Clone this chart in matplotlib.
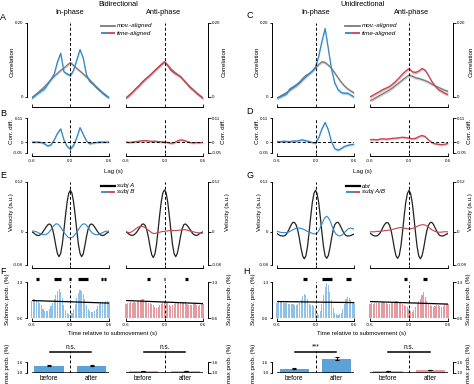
import numpy as np
import matplotlib
matplotlib.use('Agg')
import matplotlib.pyplot as plt

plt.rcParams['font.family'] = ['Liberation Sans', 'DejaVu Sans']

# ---------------- data ----------------
lag = np.linspace(-0.6, 0.6, 25)
t_vel = np.linspace(-0.6, 0.6, 49)

corr_bid_in_mov = [-0.002, 0.005, 0.012, 0.020, 0.028, 0.037, 0.047, 0.056, 0.064, 0.072, 0.078, 0.086, 0.093,
                   0.085, 0.077, 0.070, 0.062, 0.054, 0.046, 0.037, 0.028, 0.020, 0.012, 0.005, -0.002]
corr_bid_in_time = [-0.004, 0.003, 0.010, 0.016, 0.022, 0.035, 0.048, 0.062, 0.095, 0.118, 0.068, 0.062, 0.058,
                    0.072, 0.100, 0.128, 0.105, 0.060, 0.042, 0.035, 0.026, 0.018, 0.010, 0.003, -0.002]
corr_bid_anti_mov = [-0.003, 0.005, 0.013, 0.021, 0.029, 0.038, 0.047, 0.055, 0.063, 0.071, 0.079, 0.087, 0.095,
                     0.086, 0.076, 0.068, 0.061, 0.054, 0.045, 0.036, 0.027, 0.019, 0.011, 0.004, -0.003]
corr_bid_anti_time = [-0.003, 0.004, 0.012, 0.022, 0.030, 0.040, 0.048, 0.055, 0.063, 0.072, 0.080, 0.088, 0.095,
                      0.085, 0.072, 0.065, 0.060, 0.055, 0.045, 0.035, 0.025, 0.018, 0.010, 0.003, -0.004]
corr_uni_in_mov = [-0.003, 0.002, 0.007, 0.012, 0.018, 0.024, 0.030, 0.037, 0.046, 0.054, 0.062, 0.070, 0.078,
                   0.088, 0.095, 0.093, 0.086, 0.077, 0.065, 0.052, 0.040, 0.030, 0.022, 0.016, 0.011]
corr_uni_in_time = [-0.003, 0.000, 0.004, 0.008, 0.022, 0.027, 0.033, 0.040, 0.050, 0.058, 0.063, 0.070, 0.081,
                    0.110, 0.150, 0.185, 0.130, 0.075, 0.038, 0.020, 0.012, 0.010, 0.010, 0.005, 0.000]
corr_uni_anti_mov = [-0.010, -0.006, -0.001, 0.004, 0.009, 0.014, 0.019, 0.025, 0.032, 0.039, 0.046, 0.053, 0.059,
                     0.056, 0.052, 0.050, 0.047, 0.044, 0.040, 0.035, 0.030, 0.026, 0.022, 0.018, 0.015]
corr_uni_anti_time = [0.000, 0.005, 0.010, 0.015, 0.020, 0.024, 0.028, 0.035, 0.043, 0.052, 0.062, 0.070, 0.077,
                      0.068, 0.066, 0.070, 0.077, 0.072, 0.058, 0.042, 0.030, 0.020, 0.015, 0.010, 0.006]
corr_sem = 0.004

diff_bid_in = [0.000, 0.000, 0.000, -0.002, -0.008, -0.018, -0.012, 0.010, 0.040, 0.060, 0.010, -0.020, -0.033,
               -0.015, 0.020, 0.066, 0.035, 0.005, -0.008, -0.004, -0.002, 0.000, 0.000, 0.000, 0.000]
diff_bid_anti = [0.000, -0.002, 0.000, 0.002, 0.004, 0.006, 0.007, 0.005, 0.003, 0.004, 0.002, 0.001, 0.000,
                 -0.002, -0.006, -0.003, 0.005, 0.010, 0.008, 0.003, -0.002, -0.004, -0.002, -0.003, -0.001]
diff_uni_in = [0.003, 0.002, 0.004, 0.003, 0.002, 0.005, 0.004, 0.008, 0.010, 0.006, 0.003, -0.002, -0.005,
               0.020, 0.060, 0.090, 0.055, 0.000, -0.030, -0.037, -0.030, -0.020, -0.015, -0.012, -0.010]
diff_uni_anti = [0.010, 0.012, 0.010, 0.013, 0.015, 0.013, 0.015, 0.017, 0.018, 0.020, 0.022, 0.020, 0.018,
                 0.015, 0.017, 0.025, 0.030, 0.025, 0.010, -0.002, -0.008, -0.010, -0.012, -0.010, -0.006]
diff_sem = 0.005

vel_bid_in_A = [0.000, -0.002, -0.005, -0.008, -0.009, -0.008, -0.005, 0.000, 0.006, 0.012, 0.017, 0.019, 0.016,
                0.006, -0.012, -0.034, -0.053, -0.060, -0.052, -0.030, 0.004, 0.040, 0.072, 0.093, 0.100,
                0.093, 0.072, 0.040, 0.004, -0.030, -0.052, -0.060, -0.053, -0.034, -0.012, 0.006, 0.016,
                0.019, 0.017, 0.012, 0.006, 0.000, -0.005, -0.008, -0.009, -0.008, -0.005, -0.002, 0.000]
vel_bid_in_B = [0.001, 0.002, 0.001, 0.000, -0.002, -0.004, -0.006, -0.007, -0.007, -0.006, -0.004, 0.000, 0.005,
                0.011, 0.016, 0.019, 0.019, 0.016, 0.011, 0.005, -0.001, -0.006, -0.011, -0.014, -0.015,
                -0.014, -0.011, -0.006, -0.001, 0.005, 0.011, 0.016, 0.019, 0.019, 0.016, 0.011, 0.005,
                0.000, -0.004, -0.006, -0.007, -0.007, -0.006, -0.004, -0.002, 0.000, 0.001, 0.002, 0.001]
vel_bid_anti_A = [0.000, -0.003, -0.006, -0.008, -0.009, -0.007, -0.004, 0.001, 0.007, 0.013, 0.018, 0.019, 0.015,
                  0.004, -0.014, -0.036, -0.055, -0.062, -0.054, -0.031, 0.004, 0.041, 0.073, 0.094, 0.101,
                  0.094, 0.072, 0.039, 0.003, -0.031, -0.053, -0.060, -0.052, -0.033, -0.011, 0.007, 0.017,
                  0.019, 0.016, 0.011, 0.005, -0.001, -0.006, -0.008, -0.009, -0.007, -0.004, -0.002, 0.000]
vel_bid_anti_B = [0.000, -0.001, -0.002, -0.001, 0.001, 0.004, 0.007, 0.010, 0.012, 0.013, 0.013, 0.012, 0.010,
                  0.007, 0.004, 0.001, -0.002, -0.004, -0.004, -0.003, -0.002, -0.001, 0.000, 0.001, 0.001,
                  0.002, 0.002, 0.003, 0.003, 0.003, 0.003, 0.003, 0.003, 0.004, 0.004, 0.005, 0.005,
                  0.005, 0.004, 0.003, 0.002, 0.001, 0.000, -0.001, -0.002, -0.002, -0.003, -0.003, -0.003]
vel_uni_in_dot = [-0.004, -0.007, -0.009, -0.010, -0.010, -0.009, -0.005, 0.002, 0.010, 0.018, 0.023, 0.022, 0.016,
                  0.003, -0.017, -0.040, -0.058, -0.065, -0.058, -0.036, -0.002, 0.036, 0.070, 0.092, 0.100,
                  0.092, 0.070, 0.036, -0.002, -0.036, -0.058, -0.064, -0.057, -0.039, -0.016, 0.004, 0.017,
                  0.022, 0.023, 0.018, 0.010, 0.002, -0.005, -0.009, -0.010, -0.010, -0.009, -0.007, -0.006]
vel_uni_in_AB = [0.001, 0.000, -0.001, -0.002, -0.002, -0.002, -0.002, -0.001, 0.001, 0.003, 0.005, 0.007, 0.008,
                 0.009, 0.009, 0.008, 0.007, 0.005, 0.003, 0.001, 0.000, -0.002, -0.004, -0.005, -0.005,
                 -0.003, 0.002, 0.010, 0.019, 0.028, 0.035, 0.037, 0.034, 0.027, 0.017, 0.007, -0.001,
                 -0.006, -0.009, -0.010, -0.009, -0.006, -0.002, 0.002, 0.006, 0.008, 0.009, 0.008, 0.006]
vel_uni_anti_dot = [-0.003, -0.006, -0.009, -0.010, -0.010, -0.008, -0.004, 0.003, 0.011, 0.018, 0.022, 0.022, 0.016,
                    0.003, -0.017, -0.040, -0.058, -0.064, -0.057, -0.035, -0.001, 0.037, 0.071, 0.092, 0.100,
                    0.092, 0.070, 0.036, -0.002, -0.036, -0.058, -0.065, -0.058, -0.040, -0.017, 0.003, 0.016,
                    0.022, 0.023, 0.018, 0.010, 0.002, -0.005, -0.009, -0.010, -0.010, -0.008, -0.006, -0.004]
vel_uni_anti_AB = [0.000, 0.000, 0.000, 0.000, 0.001, 0.001, 0.001, 0.002, 0.002, 0.003, 0.003, 0.004, 0.004,
                   0.005, 0.006, 0.007, 0.008, 0.009, 0.010, 0.010, 0.010, 0.009, 0.008, 0.007, 0.007,
                   0.007, 0.008, 0.009, 0.011, 0.013, 0.015, 0.016, 0.017, 0.017, 0.016, 0.014, 0.011,
                   0.008, 0.005, 0.003, 0.001, 0.000, -0.001, -0.001, -0.001, 0.000, 0.000, 0.000, 0.000]

prob_bid_in = [0.94, 0.96, 0.97, 0.95, 0.93, 0.90, 0.85, 0.78, 0.74, 0.73, 0.74, 0.78, 0.84, 0.90, 0.96, 1.04,
               1.12, 1.16, 1.10, 0.98, 0.86, 0.76, 0.70, 0.67, 0.66, 0.70, 0.78, 0.88, 0.98, 1.08, 1.15, 1.13,
               1.06, 0.96, 0.86, 0.78, 0.73, 0.72, 0.72, 0.74, 0.78, 0.83, 0.87, 0.90, 0.91, 0.92, 0.93, 0.93, 0.92]
prob_bid_anti = [0.88, 0.90, 0.89, 0.91, 0.90, 0.92, 0.90, 0.91, 0.93, 0.95, 0.97, 0.96, 0.93, 0.92, 0.90, 0.89,
                 0.87, 0.85, 0.82, 0.80, 0.82, 0.85, 0.88, 0.91, 0.93, 0.92, 0.89, 0.86, 0.84, 0.85, 0.88, 0.90,
                 0.91, 0.90, 0.89, 0.90, 0.92, 0.91, 0.88, 0.86, 0.85, 0.86, 0.88, 0.87, 0.85, 0.84, 0.86, 0.88, 0.87]
prob_uni_in = [0.90, 0.91, 0.92, 0.91, 0.90, 0.89, 0.89, 0.88, 0.88, 0.87, 0.87, 0.86, 0.86, 0.88, 0.90, 0.95,
               1.02, 1.06, 1.04, 0.96, 0.88, 0.86, 0.85, 0.84, 0.80, 0.70, 0.66, 0.74, 0.88, 1.05, 1.20, 1.28,
               1.24, 1.10, 0.95, 0.80, 0.70, 0.67, 0.66, 0.67, 0.70, 0.78, 0.88, 0.96, 1.00, 0.99, 0.95, 0.92, 0.91]
prob_uni_anti = [0.88, 0.89, 0.88, 0.89, 0.90, 0.90, 0.89, 0.90, 0.91, 0.90, 0.89, 0.88, 0.88, 0.89, 0.90, 0.92,
                 0.93, 0.94, 0.92, 0.89, 0.87, 0.86, 0.84, 0.82, 0.78, 0.74, 0.72, 0.76, 0.82, 0.88, 0.93, 0.97,
                 1.04, 1.10, 1.00, 0.93, 0.88, 0.85, 0.83, 0.82, 0.83, 0.85, 0.86, 0.84, 0.82, 0.84, 0.87, 0.89, 0.88]
base_t = [-0.6, 0.6]
base_bid_in = [0.94, 0.89]
base_bid_anti = [0.94, 0.88]
base_uni_in = [0.92, 0.90]
base_uni_anti = [0.92, 0.87]

sig_bid_in = [(-0.53, -0.49), (-0.25, -0.15), (-0.015, 0.015), (0.12, 0.27), (0.47, 0.51), (0.52, 0.56)]
sig_bid_anti = [(-0.28, -0.23), (-0.015, 0.015), (0.32, 0.36)]
sig_uni_in = [(-0.19, -0.14), (0.10, 0.26), (0.48, 0.56)]
sig_uni_anti = [(-0.07, -0.03), (0.22, 0.28)]

groups = ['before', 'after']
max_bid_in = [1.40, 1.40]; err_bid_in = [0.03, 0.03]
max_bid_anti = [1.12, 1.11]; err_bid_anti = [0.015, 0.015]
max_uni_in = [1.23, 1.78]; err_uni_in = [0.02, 0.07]
max_uni_anti = [1.12, 1.17]; err_uni_anti = [0.015, 0.015]
stat_labels = ['n.s.', 'n.s.', '***', 'n.s.']

# ---------------- style ----------------
BLUE = '#2f86c9'; BLUE_L = '#8fc0e8'; BLUE_M = '#5aa2d8'
RED = '#c9424d'; RED_L = '#e39aa1'; RED_M = '#e59ca3'
GRAY = '#7a7a7a'; GRAY_L = '#c8c8c8'
W, H = 474, 384
PT = 72 / 100
TICK_FS = 3.2

fig = plt.figure(figsize=(4.74, 3.84), dpi=100)


def rect(x0, x1, yt, yb):
    return [x0 / W, 1 - yb / H, (x1 - x0) / W, (yb - yt) / H]


COLS = [(31.7, 109), (126, 203), (277, 354), (370, 448)]
SIDES = ['left', 'right', 'left', 'right']
ROWS = {'A': (23, 101), 'B': (118, 153), 'E': (182, 265), 'F': (282, 318), 'M': (351, 373)}


def setup(ax, side, ylim, yb, yticks, ylabels, xlab=False, xspine=True, xoff=3, yoff=5):
    ax.set_xlim(-0.6, 0.6)
    ax.set_ylim(ylim)
    ax.patch.set_visible(False)
    other = 'right' if side == 'left' else 'left'
    ax.spines['top'].set_visible(False)
    ax.spines[other].set_visible(False)
    ax.spines[side].set_position(('outward', yoff * PT))
    ax.spines[side].set_bounds(*yb)
    ax.yaxis.set_ticks_position(side)
    ax.set_yticks(yticks)
    ax.set_yticklabels(ylabels)
    ax.tick_params(axis='y', direction='out', length=1.8, width=0.6, pad=0.8, labelsize=TICK_FS)
    if xspine:
        ax.spines['bottom'].set_position(('outward', xoff * PT))
        ax.spines['bottom'].set_bounds(-0.6, 0.6)
        ax.set_xticks([-0.6, 0, 0.6])
        ax.set_xticklabels(['-0.6', '0.0', '0.6'] if xlab else [])
        ax.tick_params(axis='x', direction='in', length=2.2, width=0.6, pad=1.8, labelsize=TICK_FS)
    else:
        ax.spines['bottom'].set_visible(False)
        ax.tick_params(axis='x', length=0, pad=1.5, labelsize=4.7)
    for s in ax.spines.values():
        s.set_linewidth(0.7)
    ax.axvline(0, color='k', lw=0.7, ls=(0, (3, 2.2)), zorder=5)


def band(ax, x, y, sem, color, fill):
    y = np.asarray(y)
    ax.fill_between(x, y - sem, y + sem, color=fill, lw=0, alpha=0.8)
    ax.plot(x, y, color=color, lw=0.9)


corr_sets = [(corr_bid_in_mov, corr_bid_in_time, BLUE, '#9fc9ea'),
             (corr_bid_anti_mov, corr_bid_anti_time, RED, '#e8aab0'),
             (corr_uni_in_mov, corr_uni_in_time, BLUE, '#9fc9ea'),
             (corr_uni_anti_mov, corr_uni_anti_time, RED, '#e8aab0')]
diff_sets = [(diff_bid_in, BLUE, '#9fc9ea'), (diff_bid_anti, RED, '#e8aab0'),
             (diff_uni_in, BLUE, '#9fc9ea'), (diff_uni_anti, RED, '#e8aab0')]
vel_sets = [(vel_bid_in_A, vel_bid_in_B, BLUE), (vel_bid_anti_A, vel_bid_anti_B, RED),
            (vel_uni_in_dot, vel_uni_in_AB, BLUE), (vel_uni_anti_dot, vel_uni_anti_AB, RED)]
prob_sets = [(prob_bid_in, base_bid_in, sig_bid_in, BLUE_L), (prob_bid_anti, base_bid_anti, sig_bid_anti, RED_L),
             (prob_uni_in, base_uni_in, sig_uni_in, BLUE_L), (prob_uni_anti, base_uni_anti, sig_uni_anti, RED_L)]
max_sets = [(max_bid_in, err_bid_in, BLUE_M), (max_bid_anti, err_bid_anti, RED_M),
            (max_uni_in, err_uni_in, BLUE_M), (max_uni_anti, err_uni_anti, RED_M)]

for i, ((x0, x1), side) in enumerate(zip(COLS, SIDES)):
    # row A/C: correlation
    ax = fig.add_axes(rect(x0, x1, *ROWS['A']))
    setup(ax, side, (-0.011, 0.2), (0, 0.2), [0, 0.2], ['0', '0.20'], xoff=6)
    mov, tim, c, cl = corr_sets[i]
    band(ax, lag, mov, corr_sem, GRAY, GRAY_L)
    band(ax, lag, tim, corr_sem, c, cl)

    # row B/D: difference
    ax = fig.add_axes(rect(x0, x1, *ROWS['B']))
    setup(ax, side, (-0.05, 0.11), (-0.05, 0.11), [-0.05, 0, 0.11], ['-0.05', '0', '0.11'], xlab=True, xoff=3)
    ax.axhline(0, color='k', lw=0.7, ls=(0, (3, 2.2)), zorder=5)
    d, c, cl = diff_sets[i]
    band(ax, lag, d, diff_sem, c, cl)

    # row E/G: velocity
    ax = fig.add_axes(rect(x0, x1, *ROWS['E']))
    setup(ax, side, (-0.08, 0.12), (-0.08, 0.12), [-0.08, 0, 0.12], ['-0.08', '0', '0.12'], xoff=3)
    va, vb, c = vel_sets[i]
    ax.plot(t_vel, va, color='#222222', lw=0.9)
    ax.plot(t_vel, vb, color=c, lw=0.8)

    # row F/H: submovement probability
    ax = fig.add_axes(rect(x0, x1, *ROWS['F']))
    setup(ax, side, (0.6, 1.3), (0.6, 1.3), [0.6, 1.3], ['0.6', '1.3'], xlab=True, xoff=3)
    p, b, sig, cl = prob_sets[i]
    p = np.asarray(p)
    ax.bar(t_vel, p - 0.6, bottom=0.6, width=0.017, color=cl, lw=0, clip_on=False)
    ax.plot(base_t, b, color='k', lw=0.9, zorder=4)
    for s0, s1 in sig:
        ax.plot([s0, s1], [1.36, 1.36], color='k', lw=2.3, solid_capstyle='butt', clip_on=False)

    # max prob bars
    ax = fig.add_axes(rect(x0, x1, *ROWS['M']))
    setup(ax, side, (1.0, 2.2), (1.0, 1.6), [1.0, 1.6], ['1.0', '1.6'], xspine=False)
    m, e, cm = max_sets[i]
    ax.bar([-0.33, 0.33], np.asarray(m) - 1.0, bottom=1.0, width=0.46, color=cm, lw=0,
           yerr=e, error_kw=dict(ecolor='k', elinewidth=0.8, capsize=1.6, capthick=0.8))
    ax.set_xticks([-0.33, 0.33])
    ax.set_xticklabels(groups)
    ax.axhline(1.0, color='k', lw=1.1, zorder=6)
    ax.plot([-0.32, 0.32], [2.15, 2.15], color='k', lw=1.1, clip_on=False)
    ax.text(0, 2.22, stat_labels[i], ha='center', va='bottom', fontsize=4.7, clip_on=False)

# ---------------- overlay text ----------------
ov = fig.add_axes([0, 0, 1, 1])
ov.set_xlim(0, W)
ov.set_ylim(H, 0)
ov.axis('off')

TFS = 5.3
for x, y, s in [(118, 5, 'Bidirectional'), (70, 12.5, 'In-phase'), (164, 12.5, 'Anti-phase'),
                (363, 5, 'Unidirectional'), (316, 12.5, 'In-phase'), (412, 12.5, 'Anti-phase')]:
    ov.text(x, y, s, ha='center', va='center', fontsize=TFS)

for x, y, s in [(3, 18, 'A'), (3, 113, 'B'), (3, 176, 'E'), (3, 272, 'F'),
                (250, 16, 'C'), (250, 112, 'D'), (250, 176, 'G'), (247, 272, 'H')]:
    ov.text(x, y, s, ha='center', va='center', fontsize=6.5)

LFS = 4.5
ylabs = [(62, 'Correlation'), (131, 'Corr. diff.'), (212, 'Velocity (a.u.)'),
         (299, 'Submov. prob. (%)'), (363, 'max prob. (%)')]
xpos = [[12, 224], [12, 224], [12, 228], [8, 230], [8, 230]]
xpos_u = [[257, 471], [258, 470], [260, 471], [254, 469], [254, 469]]
for (y, s), (xa, xb), (xc, xd) in zip(ylabs, xpos, xpos_u):
    for x in (xa, xb, xc, xd):
        ov.text(x, y, s, ha='center', va='center', rotation=90, fontsize=LFS)

for x in (113, 362):
    ov.text(x, 171, 'Lag (s)', ha='center', va='center', fontsize=4.3)
    ov.text(x, 333, 'Time relative to submovement (s)', ha='center', va='center', fontsize=4.3)

# legends
ov.plot([101, 115], [25.7, 25.7], color=GRAY, lw=1.3)
ov.plot([101, 108], [33.3, 33.3], color=BLUE, lw=1.3, solid_capstyle='butt')
ov.plot([108, 115], [33.3, 33.3], color=RED, lw=1.3, solid_capstyle='butt')
ov.text(117, 25.7, 'mov.-aligned', ha='left', va='center', fontsize=4.5, style='italic')
ov.text(117, 33.3, 'time-aligned', ha='left', va='center', fontsize=4.5, style='italic')

ov.plot([345, 360], [25.7, 25.7], color=GRAY, lw=1.3)
ov.plot([345, 352.5], [33.3, 33.3], color=BLUE, lw=1.3, solid_capstyle='butt')
ov.plot([352.5, 360], [33.3, 33.3], color=RED, lw=1.3, solid_capstyle='butt')
ov.text(362, 25.7, 'mov.-aligned', ha='left', va='center', fontsize=4.5, style='italic')
ov.text(362, 33.3, 'time-aligned', ha='left', va='center', fontsize=4.5, style='italic')

ov.plot([101, 115], [186, 186], color='k', lw=1.6)
ov.plot([101, 108], [191.5, 191.5], color=BLUE, lw=1.3, solid_capstyle='butt')
ov.plot([108, 115], [191.5, 191.5], color=RED, lw=1.3, solid_capstyle='butt')
ov.text(117, 186, 'subj A', ha='left', va='center', fontsize=4.5, style='italic')
ov.text(117, 191.5, 'subj B', ha='left', va='center', fontsize=4.5, style='italic')

ov.plot([346, 360], [186, 186], color='k', lw=1.6)
ov.plot([346, 353], [191.5, 191.5], color=BLUE, lw=1.3, solid_capstyle='butt')
ov.plot([353, 360], [191.5, 191.5], color=RED, lw=1.3, solid_capstyle='butt')
ov.text(362, 186, 'dot', ha='left', va='center', fontsize=4.5, style='italic')
ov.text(362, 191.5, 'subj A/B', ha='left', va='center', fontsize=4.5, style='italic')

fig.savefig('out.png', dpi=100)
